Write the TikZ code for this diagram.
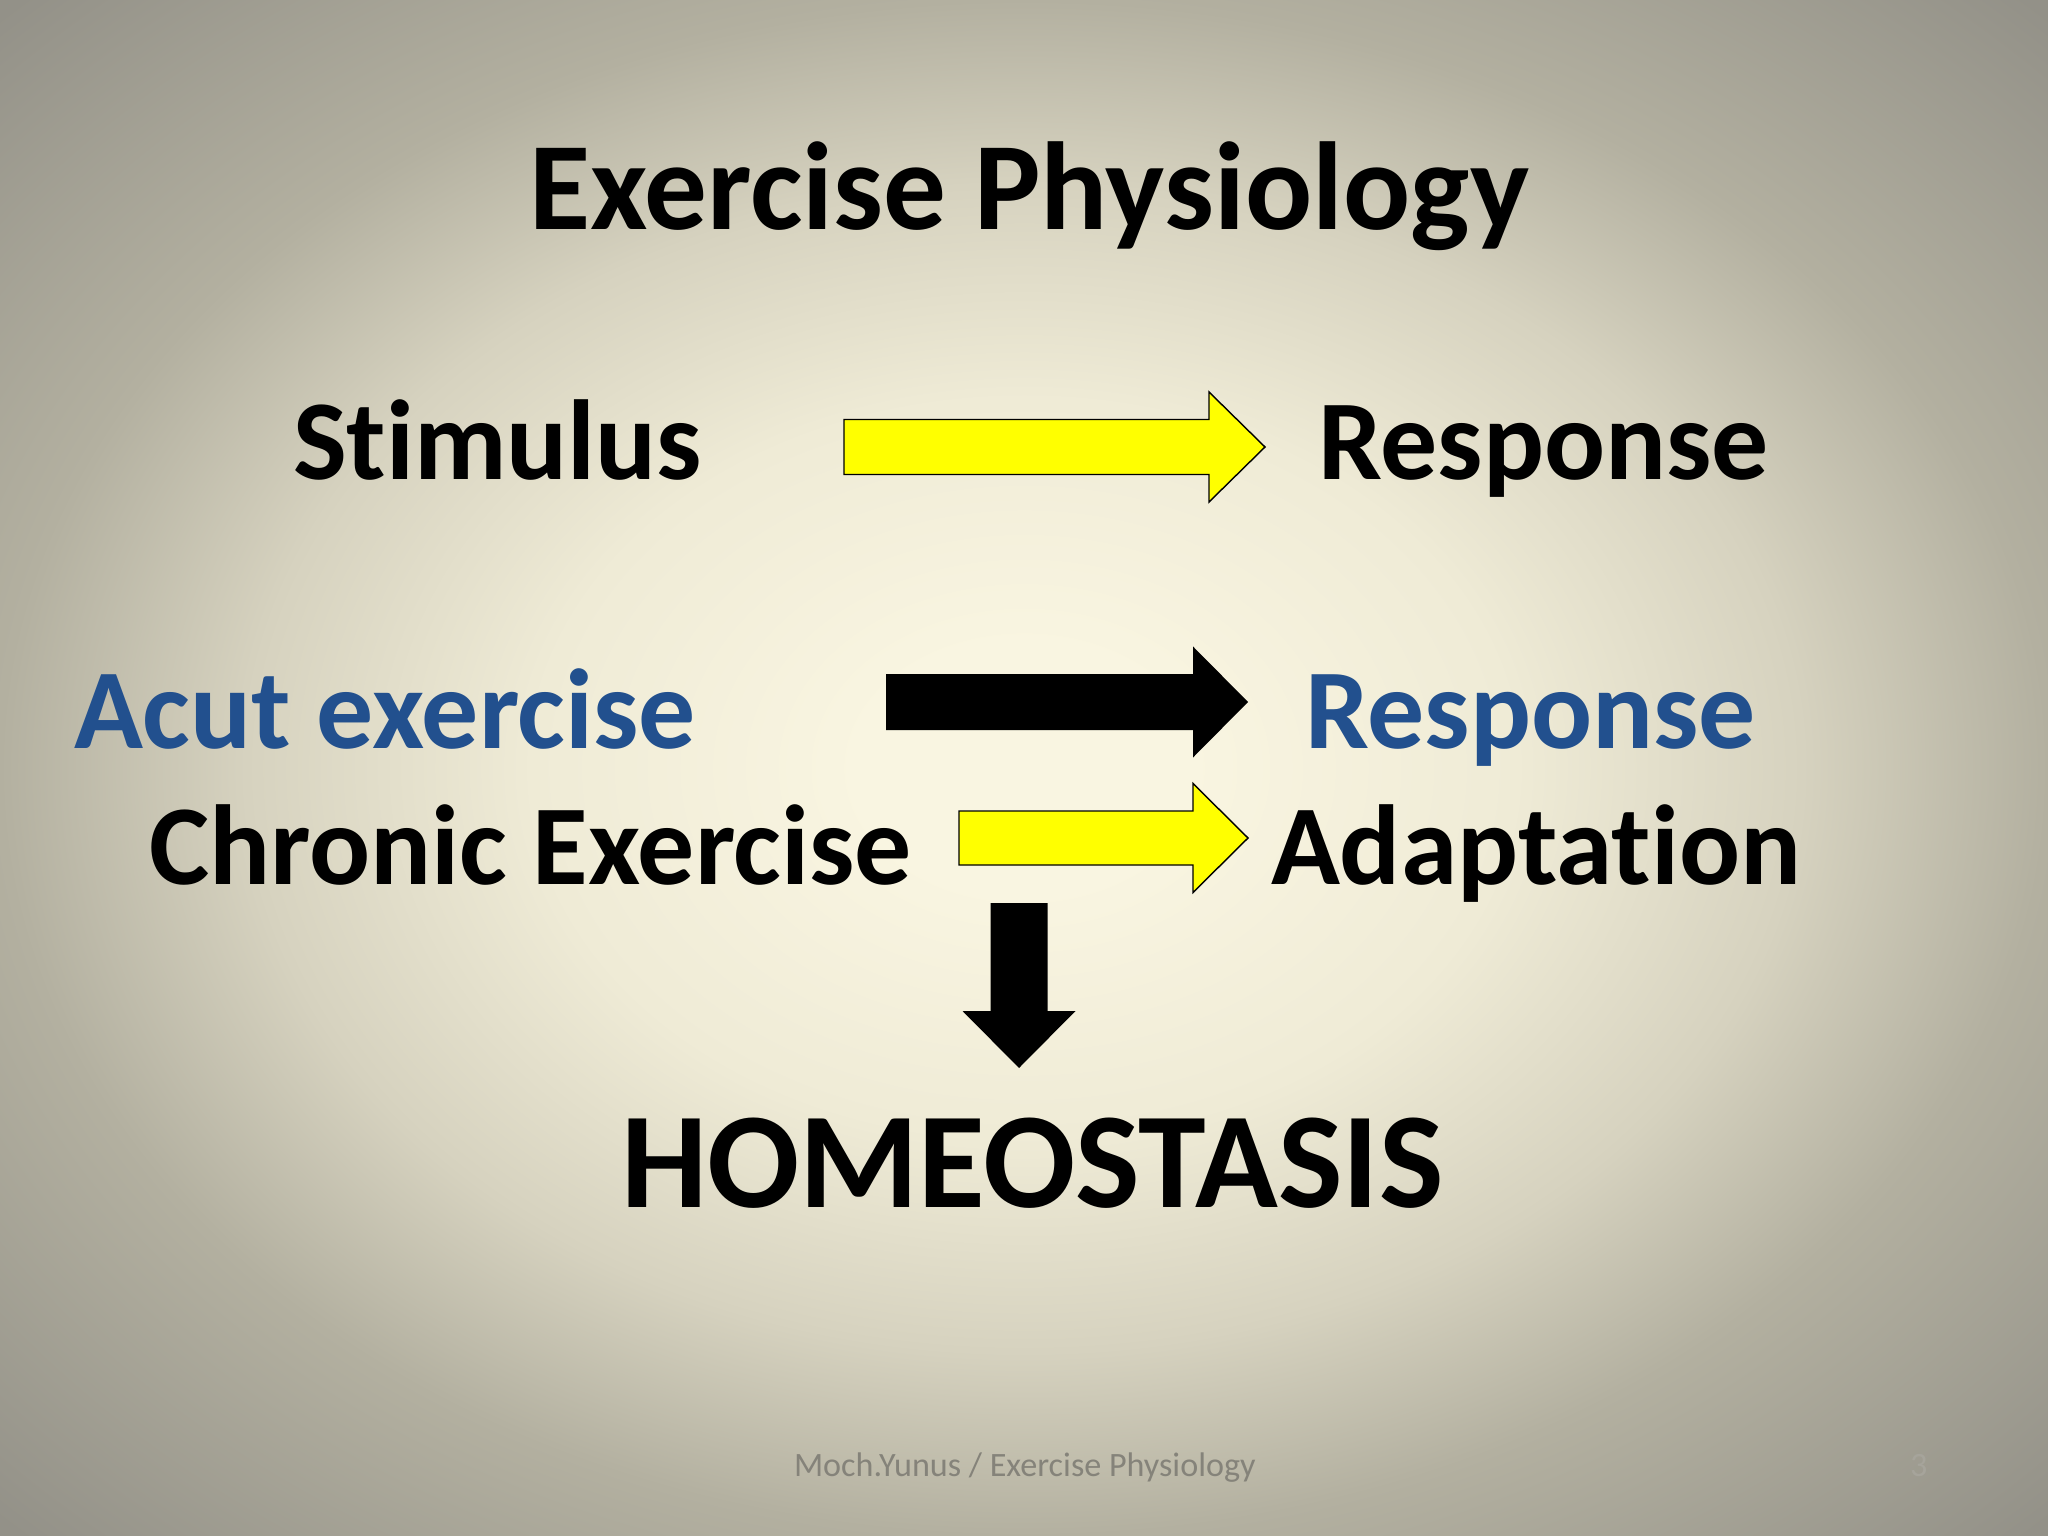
\documentclass[tikz,border=0pt]{standalone}
\usepackage{fontspec}
\setmainfont{Carlito}[RawFeature={-liga}]
\usetikzlibrary{calc}
\definecolor{bgA}{HTML}{F9F5E1}
\definecolor{bgB}{HTML}{EFEBD6}
\definecolor{bgC}{HTML}{D6D2BF}
\definecolor{bgD}{HTML}{B3B0A0}
\definecolor{bgE}{HTML}{939188}
\definecolor{acutblue}{HTML}{22508E}
\definecolor{footgray}{HTML}{85837A}
\definecolor{pagegray}{HTML}{A6A49B}
\definecolor{arrowyellow}{HTML}{FFFF00}
\pgfdeclareradialshading{slidebg}{\pgfpoint{0bp}{0bp}}{color(0bp)=(bgA); color(4bp)=(bgA); color(12bp)=(bgB); color(19bp)=(bgC); color(25bp)=(bgD); color(35bp)=(bgE); color(50bp)=(bgE)}
\tikzset{
  titletxt/.style={anchor=base west, inner sep=0pt, outer sep=0pt, font=\bfseries\fontsize{44}{52}\selectfont},
  txt/.style={anchor=base west, inner sep=0pt, outer sep=0pt, font=\bfseries\fontsize{40}{48}\selectfont},
  bigtxt/.style={anchor=base west, inner sep=0pt, outer sep=0pt, font=\bfseries\fontsize{48}{56}\selectfont},
  foot/.style={anchor=base west, inner sep=0pt, outer sep=0pt, font=\fontsize{12}{14}\selectfont, text=footgray},
  yarrow/.style={fill=arrowyellow, draw=black, line width=0.5pt, line join=miter},
  karrow/.style={fill=black, draw=none}
}
\begin{document}
\begin{tikzpicture}[x=0.3515625pt, y=-0.3515625pt]
\useasboundingbox (0,0) rectangle (2048,1536);
\shade[shading=slidebg] (0,0) rectangle (2048,1536);

% texts
\node[titletxt] (title) at (529,230) {Exercise Physiology};
\node[txt] (stim) at (293,480) {Stimulus};
\node[txt] (resp1) at (1318,480) {Response};
\node[txt, text=acutblue] (acut) at (74,748) {Acut exercise};
\node[txt, text=acutblue] (resp2) at (1305,748) {Response};
\node[txt] (chron) at (149,884) {Chronic Exercise};
\node[txt] (adapt) at (1271,884) {Adaptation};
\node[bigtxt] (homeo) at (621,1207) {HOMEOSTASIS};
\node[foot] (footer) at (794,1476) {Moch.Yunus / Exercise Physiology};
\node[foot, text=pagegray] (pagenum) at (1910,1476) {3};

% arrow coordinates
\coordinate (a1s) at (844,447);  \coordinate (a1b) at (1209,447); \coordinate (a1t) at (1265,447);
\coordinate (a2s) at (886,702);  \coordinate (a2b) at (1193,702); \coordinate (a2t) at (1248,702);
\coordinate (a3s) at (959,838);  \coordinate (a3b) at (1193,838); \coordinate (a3t) at (1248,838);

% Stimulus -> Response
\path[yarrow] ($(a1s)+(0,-27.5)$) -- ($(a1b)+(0,-27.5)$) -- ($(a1b)+(0,-55)$) -- (a1t) -- ($(a1b)+(0,55)$) -- ($(a1b)+(0,27.5)$) -- ($(a1s)+(0,27.5)$) -- cycle;
% Acut exercise -> Response
\path[karrow] ($(a2s)+(0,-28)$) -- ($(a2b)+(0,-28)$) -- ($(a2b)+(0,-55.5)$) -- (a2t) -- ($(a2b)+(0,55.5)$) -- ($(a2b)+(0,28)$) -- ($(a2s)+(0,28)$) -- cycle;
% Chronic Exercise -> Adaptation
\path[yarrow] ($(a3s)+(0,-27)$) -- ($(a3b)+(0,-27)$) -- ($(a3b)+(0,-54.5)$) -- (a3t) -- ($(a3b)+(0,54.5)$) -- ($(a3b)+(0,27)$) -- ($(a3s)+(0,27)$) -- cycle;
% down arrow to HOMEOSTASIS
\coordinate (d1s) at (1019,903); \coordinate (d1b) at (1019,1011); \coordinate (d1t) at (1019,1068);
\path[karrow] ($(d1s)+(-28.5,0)$) -- ($(d1b)+(-28.5,0)$) -- ($(d1b)+(-56.5,0)$) -- (d1t) -- ($(d1b)+(56.5,0)$) -- ($(d1b)+(28.5,0)$) -- ($(d1s)+(28.5,0)$) -- cycle;
\end{tikzpicture}
\end{document}
